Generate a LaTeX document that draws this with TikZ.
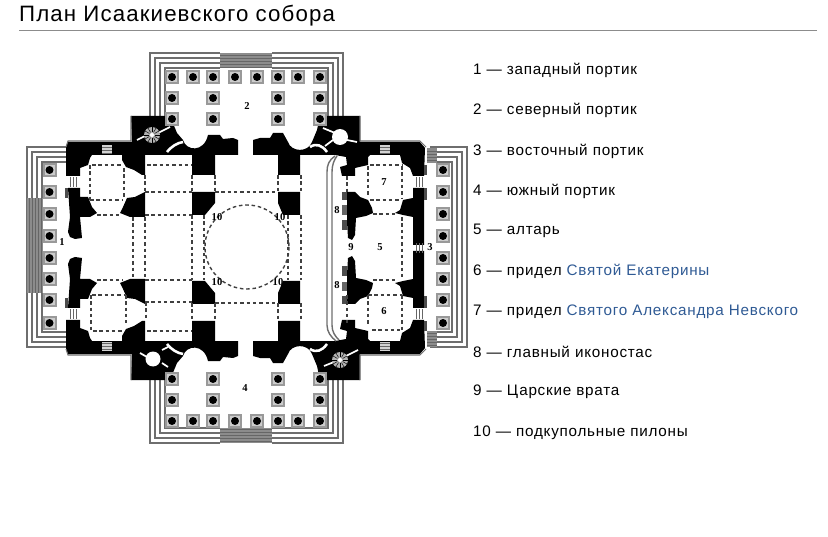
\documentclass[tikz,border=0pt]{standalone}
\usepackage{fontspec}
\setmainfont[LetterSpace=5]{Liberation Sans}
\newfontfamily\planfont{Liberation Serif}
\definecolor{linkblue}{HTML}{2F5A94}
\definecolor{stairgray}{HTML}{8C8C8C}
\definecolor{linegray}{HTML}{6E6E6E}
\tikzset{font={\fontsize{13pt}{15pt}\selectfont}}
\tikzset{
	wall/.style={fill=black},
	stepline/.style={draw=linegray,line width=0.9pt},
	bayline/.style={draw=black!75,line width=1pt,dash pattern=on 3pt off 2.4pt},
	whitecut/.style={draw=white,line width=1.5pt},
	stripe/.style={draw=black!60,line width=0.5pt},
	legend/.style={anchor=west,inner sep=0pt},
	number/.style={inner sep=0pt,font={\planfont\bfseries\fontsize{9pt}{9pt}\selectfont}}
}
% Everything that repeats north / south
\newcommand{\planhalf}{
		% Steps of the portico
		\foreach \d in {0,5,10,15}
		\draw[stepline] (220,53+\d) -- (150+\d,53+\d) -- (150+\d,116);
		\foreach \d in {0,5,10,15}
		\draw[stepline] (272,53+\d) -- (343-\d,53+\d) -- (343-\d,116);
		% Stair blocks
		\fill[stairgray] (220,53) rectangle (272,68);
		\foreach \d in {55,58,...,67}
		\draw[stripe] (220,\d) -- (272,\d);
		% Outer north walls
		\fill[wall] (66,147) -- (68,142) -- (132,142) -- (131,116) -- (170,116) -- (177,133) -- (183,140) .. controls (186,151) and (204,153) .. (208,135) -- (220,135) -- (223,139) -- (233,138) -- (238,140) -- (238,155) -- (215,155) -- (215,175) -- (192,175) -- (192,155) -- (145,155) -- (145,175) -- (142,175) -- (134,170) -- (126,167) -- (122,160) -- (122,155) -- (92,155) -- (90,158) -- (88,165) -- (80,168) -- (80,176) -- (66,176) -- cycle;
		\fill[wall] (253,140) -- (260,138) -- (270,138) -- (273,133) -- (283,133) -- (288,142) .. controls (291,152) and (308,153) .. (312,142) -- (317,130) -- (320,116) -- (360,116) -- (360,142) -- (420,142) -- (425,148) -- (424,176) -- (413,176) -- (410,168) -- (402,163) -- (400,155) -- (370,155) -- (368,157) -- (368,165) -- (355,168) -- (355,176) -- (342,176) -- (340,167) -- (347,165) -- (346,157) -- (335,155) -- (300,155) -- (300,175) -- (278,175) -- (278,155) -- (253,155) -- cycle;
		\draw[stepline] (66,147) -- (68,141) -- (131,141) -- (131,116);
		\draw[stepline] (360,116) -- (360,141) -- (420,141) -- (426,147);
		% Piers
		\fill[wall] (68,188) -- (80,188) -- (80,197) -- (88,197) -- (92,207) -- (97,213) -- (90,217) -- (80,217) -- (82,238) -- (75,239) -- (70,237) -- (68,232) -- (70,217) -- cycle;
		\fill[wall] (145,192) -- (135,197) -- (127,198) -- (123,207) -- (120,213) -- (130,217) -- (145,217) -- cycle;
		\fill[wall] (192,192) -- (215,192) -- (215,203) -- (205,215) -- (192,215) -- cycle;
		\fill[wall] (278,192) -- (300,192) -- (300,215) -- (283,215) -- (278,203) -- cycle;
		\fill[wall] (347,192) -- (355,192) -- (360,197) -- (368,200) -- (372,208) -- (373,213) -- (366,216) -- (356,218) -- (355,235) -- (352,240) -- (348,238) -- (347,222) -- cycle;
		\fill[wall] (395,213) -- (400,210) -- (403,200) -- (413,198) -- (413,188) -- (424,188) -- (424,245) -- (413,245) -- (413,217) -- (403,215) -- cycle;
		\fill[black!70] (342,192) rectangle (347,200);
		\fill[black!70] (342,220) rectangle (347,230);
		\fill[black!70] (65,188) rectangle (68,198);
		\fill[black!70] (424,165) rectangle (427,175);
		\fill[black!70] (424,188) rectangle (427,200);
		% Doors in the walls
		\fill[gray!35] (102,145) rectangle (112,154);
		\foreach \d in {147,150,153}
		\draw[stripe,line width=0.7pt] (102,\d) -- (112,\d);
		\fill[gray!35] (380,145) rectangle (390,154);
		\foreach \d in {147,150,153}
		\draw[stripe,line width=0.7pt] (380,\d) -- (390,\d);
		\foreach \d in {70,73,76}
		\draw[stripe,line width=0.7pt] (\d,177) -- (\d,187);
		\foreach \d in {416,419,422}
		\draw[stripe,line width=0.7pt] (\d,177) -- (\d,187);
		% Curved cuts beside the stairs
		\draw[whitecut,line width=2.2pt] (167,152) .. controls (172,146) and (177,143) .. (183,142);
		\draw[whitecut,line width=2.2pt] (310,147) .. controls (316,143) and (322,145) .. (327,152);
}
\begin{document}
\begin{tikzpicture}[x=0.03cm,y=-0.03cm]
		\useasboundingbox (0,0) rectangle (828,537);
		\node[legend,font={\fontsize{19pt}{20pt}\selectfont}] (title) at (19,16) {План Исаакиевского собора};
		\draw[black!45,line width=0.8pt] (19,30) -- (817,30);
		% West and east steps
		\foreach \d in {0,5,10,15}
		\draw[stepline] (66,147+\d) -- (27+\d,147+\d) -- (27+\d,347-\d) -- (66,347-\d);
		\foreach \d in {0,5,10,15}
		\draw[stepline] (430,147+\d) -- (467-\d,147+\d) -- (467-\d,347-\d) -- (430,347-\d);
		% North and south halves
		\begin{scope}
		\planhalf
		\end{scope}
		\begin{scope}[shift={(0,496)},yscale=-1]
		\planhalf
		\end{scope}
		% West and east stairs
		\fill[stairgray] (27,198) rectangle (43,293);
		\foreach \d in {29,32,...,42}
		\draw[stripe] (\d,198) -- (\d,293);
		\fill[stairgray] (427,148) rectangle (437,163);
		\foreach \d in {151,154,...,162}
		\draw[stripe] (427,\d) -- (437,\d);
		\fill[stairgray] (427,331) rectangle (437,347);
		\foreach \d in {333,336,...,346}
		\draw[stripe] (427,\d) -- (437,\d);
		\foreach \d in {416,419,422}
		\draw[stripe,line width=0.7pt] (\d,243) -- (\d,253);
		% Columns
		\foreach \a in {172,193,213,235,257,278,298,320}
		\foreach \b in {77,421}
		{
		\fill[gray!80] (\a-7,\b-7) rectangle (\a+7,\b+7);
		\fill[gray!40] (\a-5,\b-5) rectangle (\a+5,\b+5);
		\fill (\a,\b) circle (4);
		}
		\foreach \a in {172,213,278,320}
		\foreach \b in {98,119,379,400}
		{
		\fill[gray!80] (\a-7,\b-7) rectangle (\a+7,\b+7);
		\fill[gray!40] (\a-5,\b-5) rectangle (\a+5,\b+5);
		\fill (\a,\b) circle (4);
		}
		\foreach \a in {49.5,443}
		\foreach \b in {170,192,214,236,258,279,300,323}
		{
		\fill[gray!80] (\a-7,\b-7) rectangle (\a+7,\b+7);
		\fill[gray!40] (\a-5,\b-5) rectangle (\a+5,\b+5);
		\fill (\a,\b) circle (4);
		}
		% Stair towers
		\draw[whitecut] (137,140) -- (147,135);
		\draw[whitecut] (158,133) -- (170,127);
		\draw[whitecut] (140,353) -- (147,357);
		\draw[whitecut] (162,350) -- (168,347);
		\draw[whitecut] (162,363) -- (168,367);
		\draw[whitecut] (323,128) -- (335,133);
		\draw[whitecut] (347,140) -- (357,142);
		\draw[whitecut] (325,146) -- (333,140);
		\draw[whitecut] (324,366) -- (334,362);
		\draw[whitecut] (346,356) -- (358,350);
		\fill[white] (153,359) circle (7.5);
		\fill[white] (340,137) circle (8);
		\foreach \p/\q in {152/135,340/360}
		{
		\fill[gray!60] (\p,\q) circle (8);
		\foreach \a in {0,30,...,330}
		\draw[black,line width=0.4pt] (\p,\q) +(\a:3) -- +(\a:8);
		\fill[white] (\p,\q) circle (2);
		}
		% Bay lines
		\draw[bayline] (92,165) -- (122,165);
		\draw[bayline] (147,165) -- (192,165);
		\draw[bayline] (145,192) -- (192,192);
		\draw[bayline] (215,192) -- (278,192);
		\draw[bayline] (90,200) -- (123,200);
		\draw[bayline] (97,215) -- (122,215);
		\draw[bayline] (145,215) -- (192,215);
		\draw[bayline] (97,280) -- (123,280);
		\draw[bayline] (145,280) -- (192,280);
		\draw[bayline] (92,295) -- (125,295);
		\draw[bayline] (145,302) -- (192,302);
		\draw[bayline] (215,303) -- (278,303);
		\draw[bayline] (93,331) -- (123,331);
		\draw[bayline] (147,331) -- (192,331);
		\draw[bayline] (90,165) -- (90,200);
		\draw[bayline] (91,295) -- (91,331);
		\draw[bayline] (124,168) -- (124,198);
		\draw[bayline] (126,295) -- (126,323);
		\draw[bayline] (145,175) -- (145,192);
		\draw[bayline] (146,302) -- (146,320);
		\draw[bayline] (133,217) -- (133,279);
		\draw[bayline] (145,217) -- (145,279);
		\draw[bayline] (192,175) -- (192,192);
		\draw[bayline] (215,175) -- (215,192);
		\draw[bayline] (278,175) -- (278,192);
		\draw[bayline] (301,175) -- (301,192);
		\draw[bayline] (192,303) -- (192,320);
		\draw[bayline] (215,303) -- (215,320);
		\draw[bayline] (278,303) -- (278,320);
		\draw[bayline] (301,303) -- (301,320);
		\draw[bayline] (192,215) -- (192,280);
		\draw[bayline] (204,215) -- (204,280);
		\draw[bayline] (288,215) -- (288,280);
		\draw[bayline] (301,215) -- (301,280);
		\draw[bayline] (347,176) -- (347,192);
		\draw[bayline] (347,295) -- (347,323);
		\draw[bayline] (368,166) -- (368,197);
		\draw[bayline] (368,295) -- (368,325);
		\draw[bayline] (402,166) -- (402,198);
		\draw[bayline] (402,295) -- (402,330);
		\draw[bayline] (402,217) -- (402,278);
		\draw[bayline] (370,165) -- (402,165);
		\draw[bayline] (370,200) -- (400,200);
		\draw[bayline] (373,214) -- (395,214);
		\draw[bayline] (373,280) -- (397,280);
		\draw[bayline] (368,295) -- (402,295);
		\draw[bayline] (372,330) -- (400,330);
		% Dome
		\draw[bayline,line width=1.2pt] (247,247) circle (42);
		% Iconostasis
		\draw[linegray,line width=1.2pt] (335,156) .. controls (329,160) and (327,165) .. (327,172) -- (327,325) .. controls (327,332) and (331,337) .. (336,341);
		\draw[linegray,line width=1.2pt] (337,156) .. controls (334,160) and (332,165) .. (332,172) -- (332,325) .. controls (332,332) and (335,336) .. (339,340);
		\fill[black!60] (342,205) rectangle (347,215);
		\fill[black!60] (342,282) rectangle (347,291);
		% Numbers on the plan
		\foreach \n/\a/\b in {1/62/242,2/247/106,3/430/247,4/245/388,5/380/247,6/384/311,7/384/182,9/351/247}
		\node[number] (mark\n) at (\a,\b) {\n};
		\node[number] (eightN) at (337,210) {8};
		\node[number] (eightS) at (337,285) {8};
		\foreach \m/\a/\b in {a/217/217,b/280/217,c/217/282,d/278/282}
		\node[number] (ten\m) at (\a,\b) {10};
		% Legend
		\foreach \n/\b/\t in {1/68/{1 — западный портик},2/108/{2 — северный портик},3/149/{3 — восточный портик},4/189/{4 — южный портик},5/229/{5 — алтарь},6/269/{6 — придел \textcolor{linkblue}{Святой Екатерины}},7/310/{7 — придел \textcolor{linkblue}{Святого Александра Невского}},8/350/{8 — главный иконостас},9/390/{9 — Царские врата},10/431/{10 — подкупольные пилоны}}
		\node[legend] (item\n) at (473,\b+2) {\t};
\end{tikzpicture}
\end{document}
